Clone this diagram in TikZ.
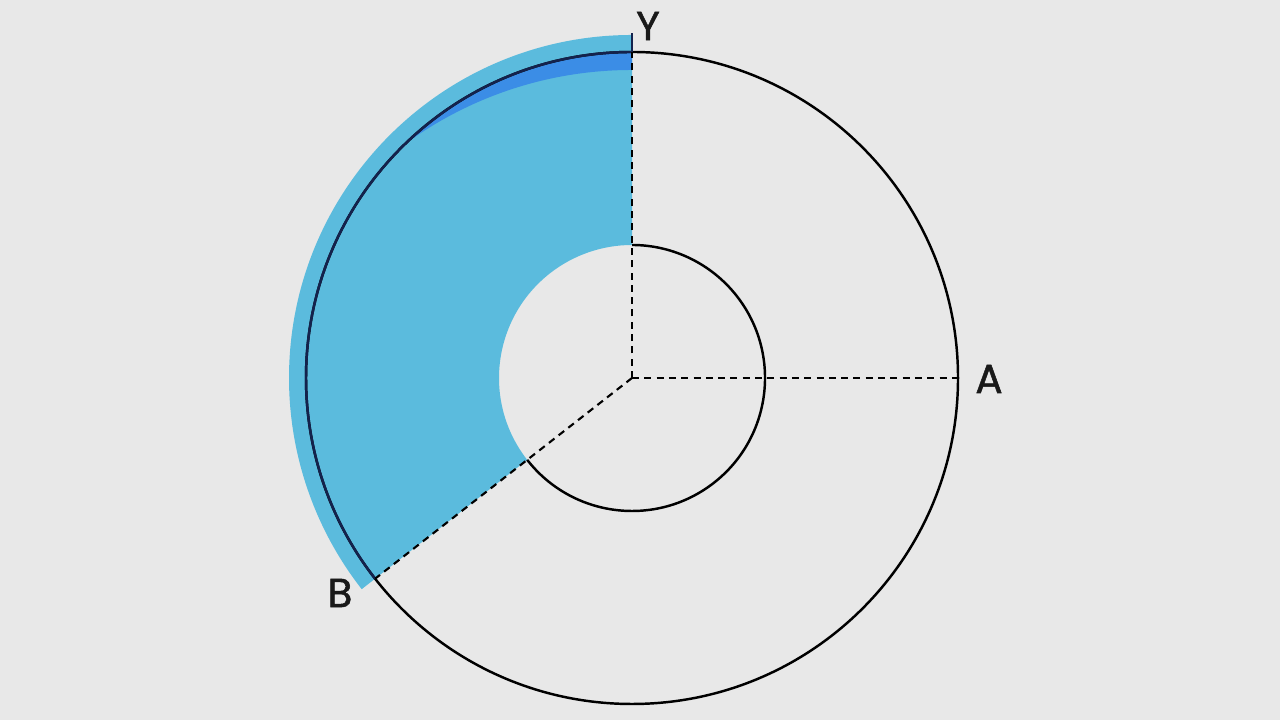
\documentclass[tikz,border=0pt]{standalone}
\usepackage{fontspec}
\setmainfont{Poppins}[BoldFont=Poppins, BoldFeatures={FakeBold=1.3}]
\usetikzlibrary{shapes, arrows}
\definecolor{bg}{HTML}{E8E8E8}
\definecolor{sector}{HTML}{5BBBDD}
\definecolor{rim}{HTML}{3B8DE6}
\definecolor{navy}{HTML}{14224D}
\tikzstyle{letter} = [font=\fontsize{11.5}{12}\selectfont\bfseries, inner sep=0pt, text=black!90]
\tikzstyle{circline} = [line width=0.7pt, draw=black]
\tikzstyle{spoke} = [line width=0.6pt, dash pattern=on 2pt off 1.5pt]

\begin{document}
\begin{tikzpicture}

\fill[bg] (0,0) rectangle (12.8,7.2);
\useasboundingbox (0,0) rectangle (12.8,7.2);

\coordinate (O) at (6.32,3.42);
\coordinate (O2) at (6.32,2.65);
\coordinate (a) at (9.58,3.42);
\coordinate (y) at (6.32,6.68);
\coordinate (ytop) at (6.32,6.87);
\coordinate (b) at (3.751,1.413);

% shaded sector
\fill[sector] (O) ++(90:3.43) arc (90:218:3.43) -- ++(38:2.10) arc (218:90:1.33) -- cycle;

% darker rim near the top
\begin{scope}
\clip (2,0) rectangle (6.32,7.2);
\clip (O) circle (3.26);
\fill[rim, even odd rule] (O) circle (3.26) (O2) circle (3.85);
\end{scope}

\draw[circline] (O) circle (3.26);
\draw[circline] (O) ++(218:1.33) arc (218:450:1.33);
\draw[circline, navy] (O) ++(90:3.26) arc (90:218:3.26);

\draw[spoke] (O) -- (a);
\draw[spoke] (O) -- (y);
\draw[spoke] (O) -- (b);
\draw[line width=0.7pt, navy] (y) -- (ytop);

\node (Y) [letter] at (6.48,6.94) {Y};
\node (A) [letter] at (9.89,3.41) {A};
\node (B) [letter] at (3.40,1.27) {B};

\end{tikzpicture}
\end{document}
